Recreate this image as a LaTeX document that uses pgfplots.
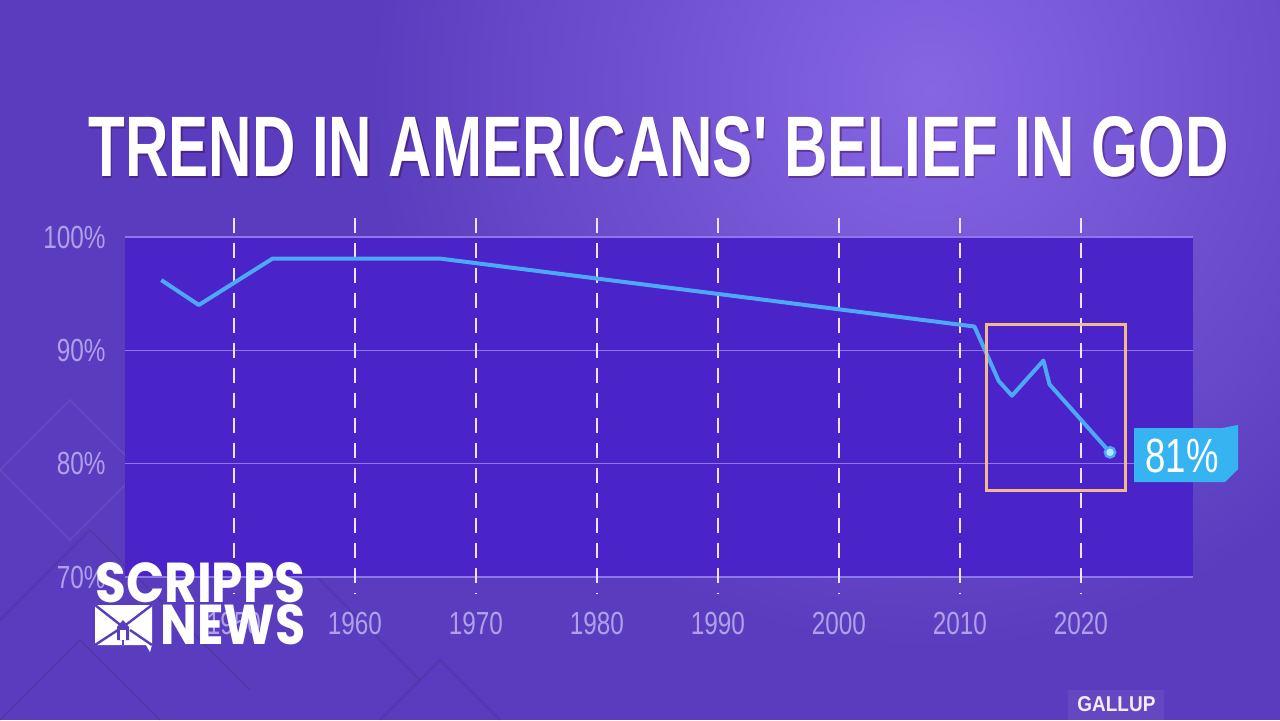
\documentclass[border=0pt]{standalone}
\usepackage{pgfplots}
\pgfplotsset{compat=1.18}
\usepackage{fontspec}
\setmainfont{Liberation Sans}
\newfontfamily\condfont[FakeStretch=0.76]{Liberation Sans}
\newfontfamily\titlefont[FakeStretch=0.72]{Liberation Sans}
\newfontfamily\logofont{Poppins}
\definecolor{bgcol}{HTML}{5A3DBE}
\definecolor{glow}{HTML}{8666E3}
\definecolor{plotbg}{HTML}{4A24C8}
\definecolor{gridcol}{HTML}{8C78EB}
\definecolor{tickcol}{HTML}{AFA0EB}
\definecolor{dashcol}{HTML}{EDE5FF}
\definecolor{lineblue}{HTML}{4DA8F8}
\definecolor{labelblue}{HTML}{36B4F2}
\definecolor{boxorange}{HTML}{F2B98C}
\begin{document}
\begin{tikzpicture}
% ---------- background ----------
\begin{scope}[shift={(0pt,360pt)},x=0.5pt,y=-0.5pt]
\fill[bgcol] (0,0) rectangle (1280,720);
\begin{scope}
\clip (0,0) rectangle (1280,720);
\shade[inner color=glow, outer color=bgcol] (930,90) circle (560);
% faint decorative diamonds
\draw[white, opacity=0.06, line width=1pt] (0,470) -- (70,400) -- (140,470) -- (70,540) -- cycle;
\draw[black, opacity=0.08, line width=1pt] (0,620) -- (90,530) -- (250,690);
\draw[black, opacity=0.08, line width=1pt] (0,720) -- (80,640) -- (160,720);
\draw[black, opacity=0.08, line width=1pt] (380,720) -- (440,660) -- (500,720);
\draw[black, opacity=0.08, line width=1pt] (300,560) -- (420,680);
\end{scope}
\end{scope}
% ---------- axis ----------
\begin{axis}[
  at={(62.5pt,71.5pt)}, anchor=south west,
  scale only axis, width=534pt, height=170pt,
  xmin=1941, xmax=2029.26, ymin=70, ymax=100,
  axis line style={draw=none},
  axis background/.style={fill=plotbg},
  major tick length=0pt,
  xtick={1950,1960,1970,1980,1990,2000,2010,2020},
  xticklabels={1950,1960,1970,1980,1990,2000,2010,2020},
  ytick={70,80,90,100},
  yticklabels={70\%,80\%,90\%,100\%},
  every tick label/.append style={inner sep=0pt, text=tickcol, font=\condfont\fontsize{16}{16}\selectfont},
  xticklabel style={anchor=north, yshift=-17.5pt},
  yticklabel style={anchor=east, xshift=-9.5pt},
  ymajorgrids, grid style={draw=gridcol, line width=0.6pt},
  clip=false,
]
% vertical dashed lines
\foreach \yr in {1950,1960,1970,1980,1990,2000,2010,2020}{
  \edef\temp{\noexpand\draw[dashcol, line width=1pt, dash pattern=on 7.5pt off 5pt] (axis cs:\yr,101.7) -- (axis cs:\yr,68.6);}
  \temp
}
\addplot[lineblue, line width=2pt, line join=round] coordinates {
 (1944,96.2) (1947.1,94) (1953.2,98.1) (1967,98.1) (2011.2,92.1)
 (2013.2,87.3) (2014.3,86.0) (2016.9,89.1) (2017.4,87.0) (2022.4,81.0)
};
\addplot[only marks, mark=*, mark size=2.6pt, mark options={draw=lineblue, fill=cyan!30!white, line width=1.2pt}] coordinates {(2022.4,81.0)};
\draw[boxorange, line width=1.6pt] (axis cs:2012.2,92.3) rectangle (axis cs:2023.7,77.6);
\end{axis}
% ---------- overlays ----------
\begin{scope}[shift={(0pt,360pt)},x=0.5pt,y=-0.5pt]
% title
\node[anchor=south west, inner sep=0pt, text=black!60!violet, opacity=0.4] at (89.5,179.5) {\resizebox{570pt}{30pt}{\titlefont\bfseries TREND IN AMERICANS' BELIEF IN GOD}};
\node[anchor=south west, inner sep=0pt, text=white] at (88,178) {\resizebox{570pt}{30pt}{\titlefont\bfseries TREND IN AMERICANS' BELIEF IN GOD}};
% 81% label
\fill[labelblue] (1134,428) -- (1222,428) -- (1238,425) -- (1238,469) -- (1225,482) -- (1134,482) -- cycle;
\node[text=white, inner sep=0pt] at (1182,456) {\condfont\fontsize{24}{24}\selectfont 81\%};
% Scripps News logo
\node[anchor=south west, inner sep=0pt, text=white] at (95,603) {\resizebox{105pt}{20pt}{\logofont\bfseries SCRIPPS}};
\node[anchor=south west, inner sep=0pt, text=white] at (160,645) {\resizebox{72.5pt}{20pt}{\logofont\bfseries NEWS}};
\fill[white] (95,605) -- (152,605) -- (152,645) -- (150,652) -- (146,645) -- (95,645) -- cycle;
\draw[bgcol, line width=1.2pt] (95,605) -- (123,627) -- (152,605);
\draw[bgcol, line width=1.2pt] (95,645) -- (118,630);
\draw[bgcol, line width=1.2pt] (152,645) -- (130,630);
\draw[bgcol, line width=1.2pt] (123,627) -- (123,645);
\fill[bgcol] (117,627) -- (123,620) -- (129,627) -- (129,640) -- (117,640) -- cycle;
\fill[white] (120,630) rectangle (126,640);
% Gallup
\fill[white, opacity=0.06] (1068,690) rectangle (1164,720);
\node[anchor=south west, inner sep=0pt, text=white!92!violet] at (1077,712) {\resizebox{39pt}{7.5pt}{\bfseries GALLUP}};
\end{scope}
\pgfresetboundingbox
\path (0,0) rectangle (640pt,360pt);
\end{tikzpicture}
\end{document}
